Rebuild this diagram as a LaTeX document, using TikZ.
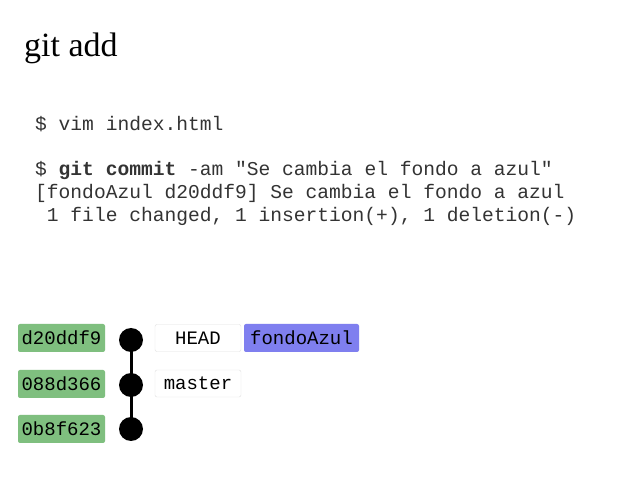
\documentclass[tikz,border=0pt]{standalone}
\usepackage{fontspec}
\setmainfont{Liberation Serif}
\setmonofont{Liberation Mono}
\definecolor{cgreen}{HTML}{7FBF7F}
\definecolor{cblue}{HTML}{7F7FEF}
\definecolor{cgray}{HTML}{E0E0E0}
\definecolor{ctext}{HTML}{333333}
\begin{document}
\begin{tikzpicture}[x=1pt,y=-1pt,
  hash/.style={fill=cgreen,rounded corners=2pt,minimum width=87pt,minimum height=28pt,inner sep=0pt,font=\ttfamily\fontsize{19}{19}\selectfont},
  ref/.style={draw=cgray,fill=white,rounded corners=2pt,minimum width=86pt,minimum height=27pt,inner sep=0pt,font=\ttfamily\fontsize{19}{19}\selectfont},
  dot/.style={circle,fill=black,minimum size=24pt,inner sep=0pt},
  code/.style={anchor=base west,inner sep=0pt,font=\ttfamily\fontsize{19.6}{19.6}\selectfont,text=ctext}]
\useasboundingbox (0,0) rectangle (638,478);
\fill[white] (0,0) rectangle (638,478);
\node[anchor=base west,inner sep=0pt,font=\fontsize{34}{34}\selectfont] (title) at (24,57) {git add};
\node[code] (l1) at (35,131) {\$ vim index.html};
\node[code] (l2) at (35,176) {\$ \textbf{git commit} -am "Se cambia el fondo a azul"};
\node[code] (l3) at (35,199) {[fondoAzul d20ddf9] Se cambia el fondo a azul};
\node[code] (l4) at (35,222) {\ 1 file changed, 1 insertion(+), 1 deletion(-)};
\node[hash] (h1) at (61.5,338) {d20ddf9};
\node[hash] (h2) at (61.5,384) {088d366};
\node[hash] (h3) at (61.5,429) {0b8f623};
\draw[line width=3pt] (131,340) -- (131,429);
\node[dot] (c1) at (131,340) {};
\node[dot] (c2) at (131,385) {};
\node[dot] (c3) at (131,429) {};
\node[ref] (head) at (198,338) {HEAD};
\node[ref] (master) at (198,383.5) {master};
\node[ref,fill=cblue,draw=none,minimum width=115pt,minimum height=28pt] (fa) at (301.5,338) {fondoAzul};
\end{tikzpicture}
\end{document}
